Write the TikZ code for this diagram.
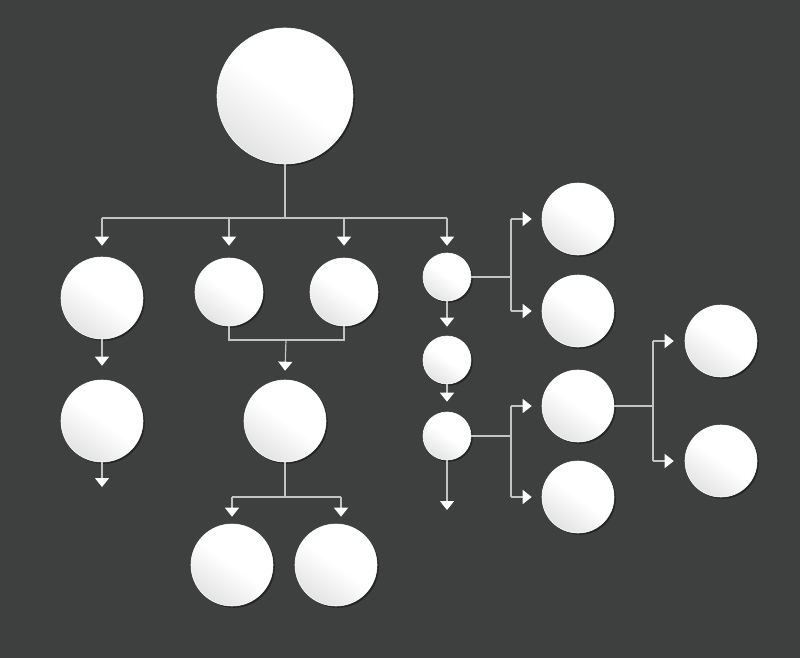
\documentclass[tikz,border=0pt]{standalone}
\usetikzlibrary{arrows.meta,shadows}
\definecolor{bg}{RGB}{62,63,63}
\definecolor{wire}{RGB}{196,196,196}
\tikzset{
  bubble/.style={circle, inner sep=0pt, minimum size=#1,
    top color=white, bottom color=gray!22, middle color=white, shading angle=-35,
    draw=white, line width=0.6pt,
    drop shadow={shadow xshift=1.8pt, shadow yshift=-1.8pt, opacity=0.4, fill=black}},
  wireline/.style={draw=wire, line width=1.2pt},
  arr/.style={wireline, -{Triangle[width=14pt,length=9pt,color=white]}},
}
\begin{document}
\begin{tikzpicture}[x=1pt,y=-1pt]
\path[use as bounding box, fill=bg] (0,0) rectangle (800,658);
% nodes
\node[bubble=136pt] (top) at (285,96) {};
\node[bubble=82pt] (c1) at (102,298) {};
\node[bubble=68pt] (c2) at (229,292) {};
\node[bubble=68pt] (c3) at (344,292) {};
\node[bubble=48pt] (c4) at (447,277) {};
\node[bubble=82pt] (c5) at (102,421) {};
\node[bubble=82pt] (c6) at (285,421) {};
\node[bubble=82pt] (c7) at (232,565) {};
\node[bubble=82pt] (c8) at (336,565) {};
\node[bubble=48pt] (c11) at (447,360) {};
\node[bubble=48pt] (c12) at (447,436) {};
\node[bubble=72pt] (c9) at (578,219) {};
\node[bubble=72pt] (c10) at (578,311) {};
\node[bubble=72pt] (c13) at (578,406) {};
\node[bubble=72pt] (c14) at (578,497) {};
\node[bubble=72pt] (c15) at (721,341) {};
\node[bubble=72pt] (c16) at (721,461) {};
% junction coordinates
\coordinate (j0) at (285,218);
\coordinate (jl) at (102,218);
\coordinate (jr) at (447,218);
\coordinate (j23) at (286,340);
\coordinate (j6) at (285,497);
\coordinate (jA) at (511,280);
\coordinate (jB) at (511,438);
\coordinate (jC) at (653,401);
\coordinate (e1) at (102,487);
\coordinate (e2) at (447,510);
% top bus
\draw[wireline] (top.south) -- (j0);
\draw[wireline] (jl) -- (jr);
\draw[arr] (jl) -- ([yshift=11pt]c1.north);
\draw[arr] (c2 |- j0) -- ([yshift=12pt]c2.north);
\draw[arr] (c3 |- j0) -- ([yshift=12pt]c3.north);
\draw[arr] (jr) -- ([yshift=7pt]c4.north);
% left column
\draw[arr] (c1.south) -- ([yshift=14pt]c5.north);
\draw[arr] (c5.south) -- (e1);
% c2,c3 -> c6
\draw[wireline] (c2.south) -- (c2 |- j23) -- (c3 |- j23) -- (c3.south);
\draw[arr] (j23) -- ([yshift=9pt]c6.north);
% c6 -> c7,c8
\draw[wireline] (c6.south) -- (j6);
\draw[wireline] (c7 |- j6) -- ([xshift=5pt]c8 |- j6);
\draw[arr] (c7 |- j6) -- ([yshift=7pt]c7.north);
\draw[arr] ([xshift=5pt]c8 |- j6) -- ([xshift=5pt,yshift=7pt]c8.north);
% small column
\draw[arr] (c4.south) -- ([yshift=9pt]c11.north);
\draw[arr] (c11.south) -- ([yshift=10pt]c12.north);
\draw[arr] (c12.south) -- (e2);
% c4 -> c9,c10
\draw[wireline] (c4.east) -- (jA |- c4);
\draw[wireline] (jA |- c9) -- (jA |- c10);
\draw[arr] (jA |- c9) -- ([xshift=-10pt]c9.west);
\draw[arr] (jA |- c10) -- ([xshift=-10pt]c10.west);
% c12 -> c13,c14
\draw[wireline] (c12.east) -- (jB |- c12);
\draw[wireline] (jB |- c13) -- (jB |- c14);
\draw[arr] (jB |- c13) -- ([xshift=-10pt]c13.west);
\draw[arr] (jB |- c14) -- ([xshift=-10pt]c14.west);
% c13 -> c15,c16
\draw[wireline] (c13.east) -- (jC |- c13);
\draw[wireline] (jC |- c15) -- (jC |- c16);
\draw[arr] (jC |- c15) -- ([xshift=-11pt]c15.west);
\draw[arr] (jC |- c16) -- ([xshift=-11pt]c16.west);
\end{tikzpicture}
\end{document}
